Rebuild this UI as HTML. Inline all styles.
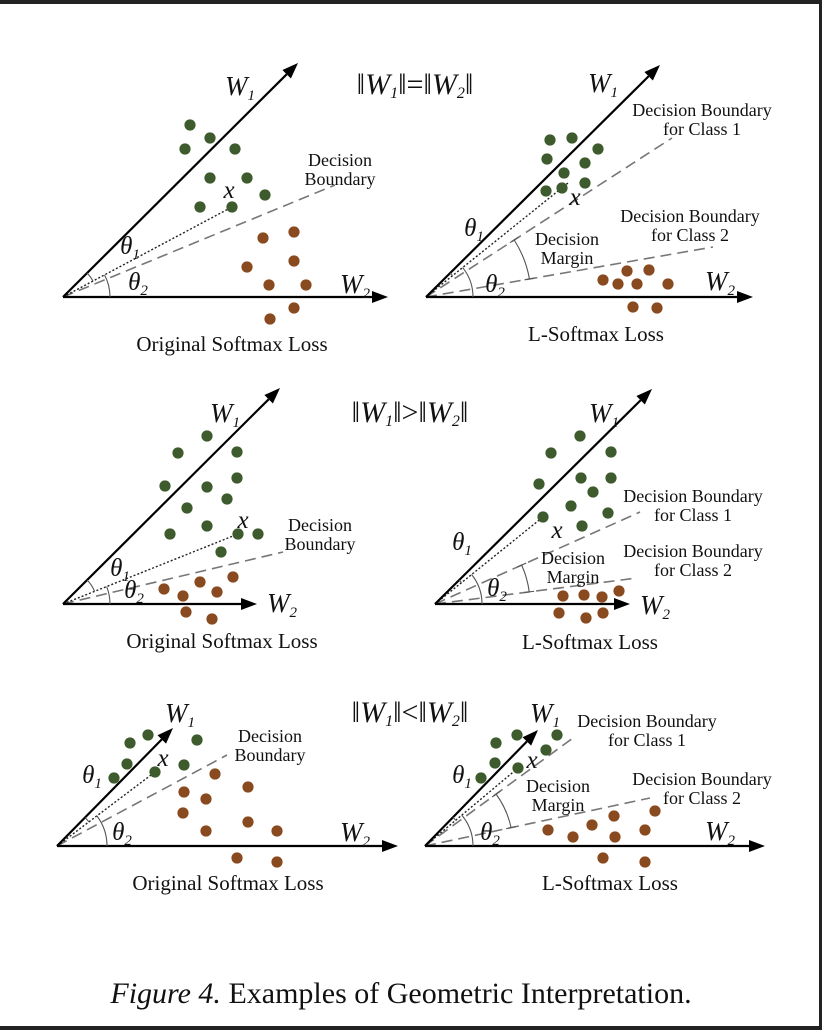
<!DOCTYPE html>
<html><head><meta charset="utf-8">
<style>
html,body{margin:0;padding:0;background:#fff;}
#wrap{position:relative;width:822px;height:1030px;overflow:hidden;background:#fff;}
svg{display:block;}
text{font-family:"Liberation Serif",serif;fill:#111;}
</style></head>
<body>
<div id="wrap">
<svg id="fig" width="822" height="1030" viewBox="0 0 822 1030">
<rect x="0" y="0" width="822" height="4" fill="#222"/>
<rect x="819" y="0" width="3" height="1030" fill="#222"/>
<rect x="0" y="1026" width="822" height="4" fill="#222"/>
<g id="panels"></g>
<text x="401" y="1003" text-anchor="middle" font-size="30"><tspan font-style="italic">Figure 4.</tspan> Examples of Geometric Interpretation.</text>
</svg>
</div>
<script>
// Point data (pixel positions)
const p1Green=[[190,125],[210,138],[185,149],[235,149],[210,178],[247,178],[265,195],[200,207],[232,207]];
const p1Brown=[[263,238],[294,232],[247,267],[294,261],[269,285],[306,285],[294,308],[270,319]];
const p2Green=[[550,140],[572,138],[598,149],[547,159],[585,163],[564,173],[546,191],[562,188],[585,183]];
const p2Brown=[[627,271],[649,270],[603,280],[618,284],[637,284],[668,284],[633,307],[657,308]];
const p3Green=[[207,436],[178,453],[237,452],[165,486],[207,487],[237,478],[227,499],[187,508],[207,526],[170,534],[238,534],[258,534],[221,552]];
const p3Brown=[[233,577],[200,582],[164,589],[183,596],[217,592],[186,612],[212,619]];
const p4Green=[[580,436],[551,453],[611,452],[539,484],[581,478],[611,478],[593,492],[571,506],[608,513],[543,517],[582,526]];
const p4Brown=[[619,591],[563,596],[584,595],[602,597],[559,613],[586,618],[603,613]];
const p5Green=[[148,735],[197,740],[130,743],[127,764],[184,765],[155,772],[114,778]];
const p5Brown=[[215,774],[248,787],[184,792],[206,799],[183,813],[248,822],[206,831],[277,831],[237,858],[277,862]];
const p6Green=[[517,735],[557,735],[496,743],[495,763],[546,750],[518,768],[481,778]];
const p6Brown=[[655,811],[614,816],[592,825],[548,830],[645,830],[573,837],[615,837],[603,858],[645,862]];

const NS='http://www.w3.org/2000/svg';
const root=document.getElementById('panels');
function mk(tag,attrs,parent){const e=document.createElementNS(NS,tag);for(const k in attrs)e.setAttribute(k,attrs[k]);(parent||root).appendChild(e);return e;}
function ang(o,p){return Math.atan2(p[1]-o[1],p[0]-o[0]);}
function arrow(o,t,g,name){
  const a=ang(o,t),L=16,W=6;
  const bx=t[0]-L*Math.cos(a),by=t[1]-L*Math.sin(a);
  const l=mk('line',{x1:o[0],y1:o[1],x2:bx,y2:by,stroke:'#000','stroke-width':2.2},g);
  
  
  const px=-Math.sin(a),py=Math.cos(a);
  const h=mk('polygon',{points:`${t[0]},${t[1]} ${bx+W*px},${by+W*py} ${bx-W*px},${by-W*py}`,fill:'#000'},g);
  
  
}
function line(o,t,g,dash,name,color,w){
  const l=mk('line',{x1:o[0],y1:o[1],x2:t[0],y2:t[1],stroke:color||'#777','stroke-width':w||1.6,'stroke-dasharray':dash},g);
  
  
}
function arc(o,r,a1,a2,g,name,caps){
  const x1=o[0]+r*Math.cos(a1),y1=o[1]+r*Math.sin(a1),x2=o[0]+r*Math.cos(a2),y2=o[1]+r*Math.sin(a2);
  const sweep=a2>a1?1:0;
  const p=mk('path',{d:`M${x1},${y1} A${r},${r} 0 0 ${sweep} ${x2},${y2}`,fill:'none',stroke:'#555','stroke-width':1.1},g);
  
  
  if(caps){[a1,a2].forEach(a=>{const c=mk('line',{x1:o[0]+(r-5)*Math.cos(a),y1:o[1]+(r-5)*Math.sin(a),x2:o[0]+(r+5)*Math.cos(a),y2:o[1]+(r+5)*Math.sin(a),stroke:'#555','stroke-width':1.1},g);
    
    });}
}
function dots(pts,color,g,name){pts.forEach(p=>{const c=mk('circle',{cx:p[0],cy:p[1],r:5.6,fill:color},g);
  
  });}
function label(x,y,txt,size,g,name,opts){
  const t=mk('text',Object.assign({x:x,y:y,'font-size':size,'text-anchor':'middle'},opts||{}),g);
  t.innerHTML=txt;
  
  
  return t;
}
function wlab(x,y,n,g,name){label(x,y,`<tspan font-style="italic">W</tspan><tspan font-style="italic" font-size="15" dy="5">${n}</tspan>`,27,g,name);}
function tlab(x,y,n,g,name){label(x,y,`<tspan font-style="italic">θ</tspan><tspan font-style="italic" font-size="15" dy="5">${n}</tspan>`,25,g,name);}
function norm(x,y,op,g){label(x,y,`‖<tspan font-style="italic">W</tspan><tspan font-style="italic" font-size="16" dy="4">1</tspan><tspan dy="-4">‖${op}‖</tspan><tspan font-style="italic">W</tspan><tspan font-style="italic" font-size="16" dy="4">2</tspan><tspan dy="-4">‖</tspan>`,30,g,'norm-relation-label');}
const GREEN='#3d5b2c',BROWN='#8a4a20';
const LS=18, CS=21;

function panel(cfg){
  const g=mk('g',{});
  
  
  const o=cfg.o;
  cfg.bounds.forEach((b,i)=>line(o,b,g,'11,6','decision-boundary-'+(i+1)));
  line(o,cfg.x,g,'2,2','x-vector','#222',1.4);
  arrow(o,cfg.w1,g,'w1-vector');
  arrow(o,cfg.w2,g,'w2-vector');
  const aw1=ang(o,cfg.w1),ax=ang(o,cfg.x),aw2=ang(o,cfg.w2);
  arc(o,cfg.r1,aw1,ax,g,'theta1-arc');
  arc(o,cfg.r2,ax,aw2,g,'theta2-arc');
  if(cfg.margin){arc(o,cfg.margin,ang(o,cfg.bounds[0]),ang(o,cfg.bounds[1]),g,'decision-margin-arc',true);}
  dots(cfg.green,GREEN,g,'class1-point');
  dots(cfg.brown,BROWN,g,'class2-point');
  cfg.labels.forEach(l=>l(g));
}
// Panel 1
panel({name:'panel-equal-original',o:[63,297],w1:[298,63],w2:[388,297],x:[232,207],bounds:[[335,185]],r1:34,r2:47,green:p1Green,brown:p1Brown,labels:[
 g=>wlab(240,95,'1',g,'w1-label'),g=>wlab(355,293,'2',g,'w2-label'),g=>tlab(130,254,'1',g,'theta1-label'),g=>tlab(138,290,'2',g,'theta2-label'),
 g=>label(229,198,'x',25,g,'x-label',{'font-style':'italic'}),
 g=>label(340,166,'Decision',LS,g,'decision-boundary-label'),g=>label(340,185,'Boundary',LS,g,'decision-boundary-label-2'),
 g=>label(232,351,'Original Softmax Loss',CS,g,'panel-caption'),g=>norm(415,94,'=',g)]});
// Panel 2
panel({name:'panel-equal-lsoftmax',o:[426,297],w1:[660,65],w2:[753,297],x:[568,183],bounds:[[672,138],[713,247]],r1:34,r2:47,margin:105,green:p2Green,brown:p2Brown,labels:[
 g=>wlab(603,92,'1',g,'w1-label'),g=>wlab(720,290,'2',g,'w2-label'),g=>tlab(474,236,'1',g,'theta1-label'),g=>tlab(495,292,'2',g,'theta2-label'),
 g=>label(575,205,'x',25,g,'x-label',{'font-style':'italic'}),
 g=>label(702,116,'Decision Boundary',LS,g,'class1-boundary-label'),g=>label(702,135,'for Class 1',LS,g,'class1-boundary-label-2'),
 g=>label(690,222,'Decision Boundary',LS,g,'class2-boundary-label'),g=>label(690,241,'for Class 2',LS,g,'class2-boundary-label-2'),
 g=>label(567,245,'Decision',LS,g,'decision-margin-label'),g=>label(567,264,'Margin',LS,g,'decision-margin-label-2'),
 g=>label(596,341,'L-Softmax Loss',CS,g,'panel-caption')]});
// Panel 3
panel({name:'panel-greater-original',o:[63,604],w1:[280,388],w2:[257,604],x:[238,534],bounds:[[283,552]],r1:34,r2:47,green:p3Green,brown:p3Brown,labels:[
 g=>wlab(225,422,'1',g,'w1-label'),g=>wlab(282,612,'2',g,'w2-label'),g=>tlab(120,576,'1',g,'theta1-label'),g=>tlab(134,598,'2',g,'theta2-label'),
 g=>label(243,528,'x',25,g,'x-label',{'font-style':'italic'}),
 g=>label(320,531,'Decision',LS,g,'decision-boundary-label'),g=>label(320,550,'Boundary',LS,g,'decision-boundary-label-2'),
 g=>label(222,648,'Original Softmax Loss',CS,g,'panel-caption'),g=>norm(410,422,'&gt;',g)]});
// Panel 4
panel({name:'panel-greater-lsoftmax',o:[435,604],w1:[652,389],w2:[630,604],x:[543,517],bounds:[[640,512],[637,578]],r1:34,r2:47,margin:95,green:p4Green,brown:p4Brown,labels:[
 g=>wlab(604,422,'1',g,'w1-label'),g=>wlab(655,614,'2',g,'w2-label'),g=>tlab(462,550,'1',g,'theta1-label'),g=>tlab(497,596,'2',g,'theta2-label'),
 g=>label(557,538,'x',25,g,'x-label',{'font-style':'italic'}),
 g=>label(693,502,'Decision Boundary',LS,g,'class1-boundary-label'),g=>label(693,521,'for Class 1',LS,g,'class1-boundary-label-2'),
 g=>label(693,557,'Decision Boundary',LS,g,'class2-boundary-label'),g=>label(693,576,'for Class 2',LS,g,'class2-boundary-label-2'),
 g=>label(573,564,'Decision',LS,g,'decision-margin-label'),g=>label(573,583,'Margin',LS,g,'decision-margin-label-2'),
 g=>label(590,649,'L-Softmax Loss',CS,g,'panel-caption')]});
// Panel 5
panel({name:'panel-less-original',o:[57,846],w1:[173,728],w2:[398,846],x:[155,772],bounds:[[227,755]],r1:40,r2:50,green:p5Green,brown:p5Brown,labels:[
 g=>wlab(180,722,'1',g,'w1-label'),g=>wlab(355,841,'2',g,'w2-label'),g=>tlab(92,783,'1',g,'theta1-label'),g=>tlab(122,840,'2',g,'theta2-label'),
 g=>label(163,766,'x',25,g,'x-label',{'font-style':'italic'}),
 g=>label(270,742,'Decision',LS,g,'decision-boundary-label'),g=>label(270,761,'Boundary',LS,g,'decision-boundary-label-2'),
 g=>label(228,890,'Original Softmax Loss',CS,g,'panel-caption'),g=>norm(410,722,'&lt;',g)]});
// Panel 6
panel({name:'panel-less-lsoftmax',o:[425,846],w1:[538,730],w2:[765,846],x:[518,768],bounds:[[573,738],[650,798]],r1:40,r2:48,margin:88,green:p6Green,brown:p6Brown,labels:[
 g=>wlab(545,722,'1',g,'w1-label'),g=>wlab(720,840,'2',g,'w2-label'),g=>tlab(462,783,'1',g,'theta1-label'),g=>tlab(490,840,'2',g,'theta2-label'),
 g=>label(532,768,'x',25,g,'x-label',{'font-style':'italic'}),
 g=>label(647,727,'Decision Boundary',LS,g,'class1-boundary-label'),g=>label(647,746,'for Class 1',LS,g,'class1-boundary-label-2'),
 g=>label(702,785,'Decision Boundary',LS,g,'class2-boundary-label'),g=>label(702,804,'for Class 2',LS,g,'class2-boundary-label-2'),
 g=>label(558,792,'Decision',LS,g,'decision-margin-label'),g=>label(558,811,'Margin',LS,g,'decision-margin-label-2'),
 g=>label(610,890,'L-Softmax Loss',CS,g,'panel-caption')]});
</script>
</body></html>
